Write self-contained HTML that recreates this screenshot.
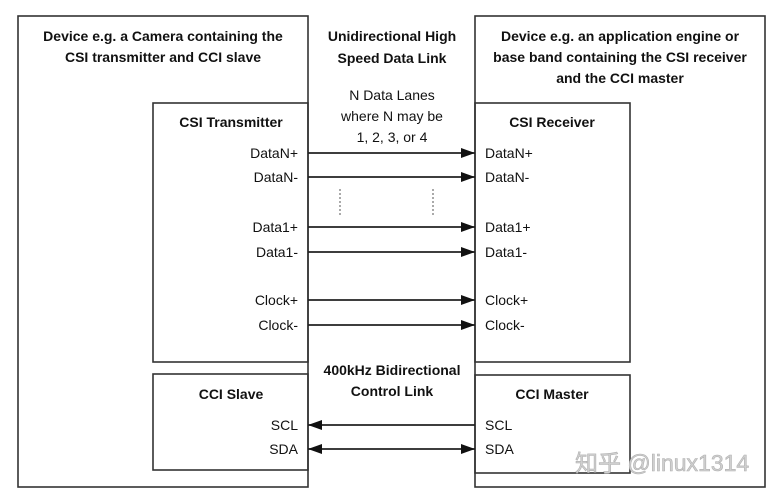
<!DOCTYPE html>
<html><head><meta charset="utf-8"><style>
html,body{margin:0;padding:0;background:#fff;}
svg{display:block;font-family:"Liberation Sans",Arial,sans-serif;}
.b{font-weight:bold;font-size:14px;fill:#111;}
.n{font-size:14px;fill:#111;}
</style></head><body>
<svg width="779" height="496" viewBox="0 0 779 496" xmlns="http://www.w3.org/2000/svg">
<defs>
<marker id="ar" markerWidth="14" markerHeight="10" refX="14" refY="5" orient="auto" markerUnits="userSpaceOnUse"><path d="M0,0 L14,5 L0,10 z" fill="#111"/></marker>
<marker id="al" markerWidth="14" markerHeight="10" refX="0" refY="5" orient="auto" markerUnits="userSpaceOnUse"><path d="M14,0 L0,5 L14,10 z" fill="#111"/></marker>
</defs>
<g fill="none" stroke="#333" stroke-width="1.6">
<rect x="18" y="16" width="290" height="471"/>
<rect x="475" y="16" width="290" height="471"/>
<rect x="153" y="103" width="155" height="259"/>
<rect x="153" y="374" width="155" height="96"/>
<rect x="475" y="103" width="155" height="259"/>
<rect x="475" y="375" width="155" height="98"/>
</g>
<g stroke="#222" stroke-width="1.8">
<line x1="308" y1="153" x2="475" y2="153" marker-end="url(#ar)"/>
<line x1="308" y1="177" x2="475" y2="177" marker-end="url(#ar)"/>
<line x1="308" y1="227" x2="475" y2="227" marker-end="url(#ar)"/>
<line x1="308" y1="252" x2="475" y2="252" marker-end="url(#ar)"/>
<line x1="308" y1="300" x2="475" y2="300" marker-end="url(#ar)"/>
<line x1="308" y1="325" x2="475" y2="325" marker-end="url(#ar)"/>
<line x1="308" y1="425" x2="475" y2="425" marker-start="url(#al)"/>
<line x1="308" y1="449" x2="475" y2="449" marker-start="url(#al)" marker-end="url(#ar)"/>
</g>
<g stroke="#555" stroke-width="1" stroke-dasharray="2,2">
<line x1="340" y1="189" x2="340" y2="215"/>
<line x1="433" y1="189" x2="433" y2="215"/>
</g>
<text class="b" x="163" y="41" text-anchor="middle">Device e.g. a Camera containing the</text>
<text class="b" x="163" y="62" text-anchor="middle">CSI transmitter and CCI slave</text>
<text class="b" x="392" y="41" text-anchor="middle">Unidirectional High</text>
<text class="b" x="392" y="63" text-anchor="middle">Speed Data  Link</text>
<text class="n" x="392" y="100" text-anchor="middle">N Data Lanes</text>
<text class="n" x="392" y="121" text-anchor="middle">where N may be</text>
<text class="n" x="392" y="142" text-anchor="middle">1, 2, 3, or 4</text>
<text class="b" x="620" y="41" text-anchor="middle">Device e.g. an application engine or</text>
<text class="b" x="620" y="62" text-anchor="middle">base band containing the CSI receiver</text>
<text class="b" x="620" y="83" text-anchor="middle">and the CCI master</text>
<text class="b" x="231" y="127" text-anchor="middle">CSI Transmitter</text>
<text class="b" x="552" y="127" text-anchor="middle">CSI Receiver</text>
<text class="n" x="298" y="158" text-anchor="end">DataN+</text>
<text class="n" x="298" y="182" text-anchor="end">DataN-</text>
<text class="n" x="298" y="232" text-anchor="end">Data1+</text>
<text class="n" x="298" y="257" text-anchor="end">Data1-</text>
<text class="n" x="298" y="305" text-anchor="end">Clock+</text>
<text class="n" x="298" y="330" text-anchor="end">Clock-</text>
<text class="n" x="298" y="430" text-anchor="end">SCL</text>
<text class="n" x="298" y="454" text-anchor="end">SDA</text>
<text class="n" x="485" y="158">DataN+</text>
<text class="n" x="485" y="182">DataN-</text>
<text class="n" x="485" y="232">Data1+</text>
<text class="n" x="485" y="257">Data1-</text>
<text class="n" x="485" y="305">Clock+</text>
<text class="n" x="485" y="330">Clock-</text>
<text class="n" x="485" y="430">SCL</text>
<text class="n" x="485" y="454">SDA</text>
<text class="b" x="392" y="375" text-anchor="middle">400kHz Bidirectional</text>
<text class="b" x="392" y="396" text-anchor="middle">Control Link</text>
<text class="b" x="231" y="399" text-anchor="middle">CCI Slave</text>
<text class="b" x="552" y="399" text-anchor="middle">CCI Master</text>
<text x="575" y="471" style="font-family:'Liberation Sans','Noto Sans CJK SC',sans-serif;font-size:23px;fill:#d0d0d0;stroke:#b0b0b0;stroke-width:0.6">知乎 @linux1314</text>
</svg>
</body></html>
